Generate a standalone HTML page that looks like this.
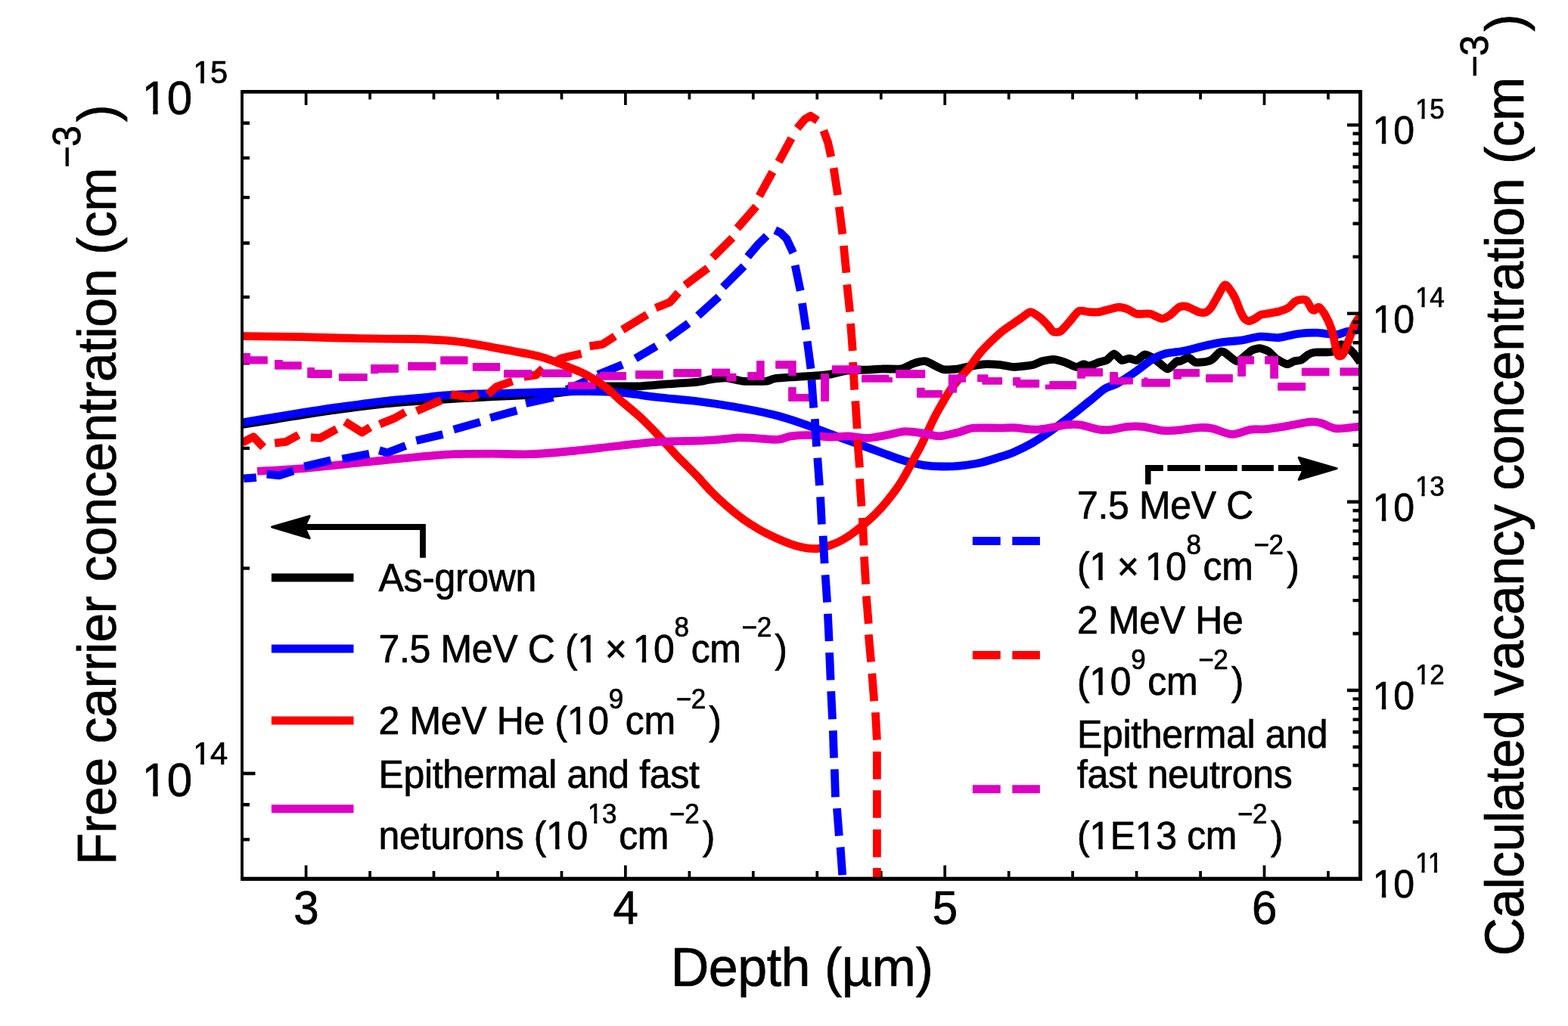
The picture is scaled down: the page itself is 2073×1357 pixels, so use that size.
<!DOCTYPE html>
<html lang="en"><head><meta charset="utf-8"><title>Free carrier and vacancy concentration vs depth</title>
<style>
html,body{margin:0;padding:0;background:#fff;}
body{width:2073px;height:1357px;overflow:hidden;}
svg{display:block;}
text{font-family:"Liberation Sans",sans-serif;fill:#000;}
.c{fill:none;stroke-width:10.8;stroke-linejoin:round;stroke-linecap:butt;}
.ax{fill:none;stroke:#000;}
</style></head><body>
<svg width="2073" height="1357" viewBox="0 0 2073 1357">
<rect x="0" y="0" width="2073" height="1357" fill="#fff"/>
<defs><clipPath id="pc"><rect x="320" y="121.4" width="1477" height="1040.6"/></clipPath></defs>
<path class="ax" d="M320,1064.3 L330,1064.3 M320,1110.4 L330,1110.4 M320,1023 L337.5,1023 M320,751.6 L330,751.6 M320,592.9 L330,592.9 M320,480.2 L330,480.2 M320,392.9 L330,392.9 M320,321.5 L330,321.5 M320,261.1 L330,261.1 M320,208.9 L330,208.9 M320,162.8 L330,162.8" stroke-width="4.4"/>
<path class="ax" d="M404.6,1162 L404.6,1144.5 M404.6,121.4 L404.6,138.9 M489.1,1162 L489.1,1152 M489.1,121.4 L489.1,131.4 M573.5,1162 L573.5,1152 M573.5,121.4 L573.5,131.4 M658,1162 L658,1152 M658,121.4 L658,131.4 M742.5,1162 L742.5,1152 M742.5,121.4 L742.5,131.4 M826.9,1162 L826.9,1144.5 M826.9,121.4 L826.9,138.9 M911.4,1162 L911.4,1152 M911.4,121.4 L911.4,131.4 M995.8,1162 L995.8,1152 M995.8,121.4 L995.8,131.4 M1080.3,1162 L1080.3,1152 M1080.3,121.4 L1080.3,131.4 M1164.8,1162 L1164.8,1152 M1164.8,121.4 L1164.8,131.4 M1249.2,1162 L1249.2,1144.5 M1249.2,121.4 L1249.2,138.9 M1333.7,1162 L1333.7,1152 M1333.7,121.4 L1333.7,131.4 M1418.1,1162 L1418.1,1152 M1418.1,121.4 L1418.1,131.4 M1502.6,1162 L1502.6,1152 M1502.6,121.4 L1502.6,131.4 M1587.1,1162 L1587.1,1152 M1587.1,121.4 L1587.1,131.4 M1671.5,1162 L1671.5,1144.5 M1671.5,121.4 L1671.5,138.9 M1756,1162 L1756,1152 M1756,121.4 L1756,131.4" stroke-width="3.7"/>
<g clip-path="url(#pc)">
<path class="c" d="M315.1,562.4 C315.8,562.2 317.3,561.9 322.1,561.1 C326.8,560.4 354.9,556.1 362.7,554.8 C370.5,553.6 392.8,549.7 400.3,548.6 C407.9,547.4 430.4,544.1 438,543 C445.5,542 468.1,539 475.6,538 C483.1,537.1 505.7,534.3 513.2,533.5 C520.7,532.8 543.3,531.1 550.8,530.5 C558.4,530 580.9,528.4 588.5,528 C596,527.5 617.3,526.4 626.1,526 C634.9,525.5 666.2,524 676.3,523.5 C686.3,523 718.9,521.5 726.4,521 C734,520.4 746.5,518.8 751.5,518 C756.5,517.2 771.6,513.6 776.6,512.9 C781.6,512.2 797.3,511.1 801.7,510.9 C806,510.7 815.7,510.9 820,510.9 C824.3,510.9 838.8,511.2 845.1,510.9 C851.4,510.6 875.2,508.5 882.7,507.9 C890.2,507.4 914.6,506 920.3,505.4 C926.1,504.8 936.4,502.2 940.4,501.7 C944.4,501.1 956.2,499.7 960.5,499.9 C964.7,500.2 977.8,503.7 983,504.2 C988.3,504.6 1008.9,504.5 1013.2,504.2 C1017.4,503.8 1019.9,501.1 1025.7,500.4 C1031.5,499.7 1063.8,497.9 1070.8,497.4 C1077.9,496.9 1090.9,496.1 1095.9,495.4 C1100.9,494.6 1116,490.5 1121,489.9 C1126,489.2 1141.6,489.3 1146.1,489.1 C1150.6,488.9 1161.6,488 1166.2,487.9 C1170.7,487.7 1187,488.6 1191.2,487.9 C1195.5,487.1 1205.5,481.3 1208.8,480.3 C1212.1,479.3 1220.1,477 1223.9,477.8 C1227.6,478.6 1242.2,487.4 1246.4,488.4 C1250.7,489.4 1262.7,488.3 1266.5,487.9 C1270.3,487.4 1280.3,484.7 1284.1,484.1 C1287.8,483.5 1300.4,481.8 1304.1,481.6 C1307.9,481.4 1318.1,482 1321.7,482.3 C1325.3,482.7 1335.7,485.3 1340,485.4 C1344.3,485.4 1361.3,483.6 1365.1,482.8 C1368.8,482.1 1374.9,478.6 1377.6,477.8 C1380.4,477.1 1389.7,475.2 1392.7,475.3 C1395.7,475.4 1404.7,478.1 1407.7,479.1 C1410.7,480.1 1420.3,485.1 1422.8,485.4 C1425.3,485.6 1431.1,481.7 1432.8,481.6 C1434.6,481.5 1438.3,484.4 1440.3,484.1 C1442.3,483.8 1450.6,479.8 1452.9,479.1 C1455.1,478.3 1460.9,477.7 1462.9,476.6 C1464.9,475.4 1470.9,467.8 1472.9,467.8 C1475,467.8 1481,475.9 1483,476.6 C1485,477.2 1491,474.1 1493,474.1 C1495,474.1 1501,477.1 1503,476.6 C1505.1,476.1 1510.8,469.3 1513.1,469 C1515.3,468.8 1522.6,472.2 1525.6,474.1 C1528.6,475.9 1540.2,487.5 1543.2,487.9 C1546.2,488.2 1554,478.8 1555.7,477.8 C1557.4,476.8 1558.4,478.4 1560,477.9 C1561.6,477.4 1569.3,472.8 1571.3,472.9 C1573.3,473 1577.8,478.6 1580.1,479.2 C1582.3,479.7 1591.6,478.9 1593.9,478.5 C1596.1,478.1 1600.8,476.7 1602.6,475.4 C1604.5,474.1 1611,466.5 1612.7,465.6 C1614.3,464.7 1616.7,464.8 1618.9,466 C1621.2,467.2 1632.4,477.6 1635.3,477.9 C1638.1,478.2 1645.8,470.6 1647.8,469.1 C1649.8,467.6 1653.6,463.9 1655.3,463.1 C1657.1,462.2 1663.2,460.5 1665.4,460.6 C1667.5,460.7 1674.5,463 1676.6,464.4 C1678.8,465.7 1684.2,472.4 1686.7,474.1 C1689.2,475.9 1699.3,481.3 1701.7,481.7 C1704.1,482 1708.6,478.5 1710.5,477.9 C1712.4,477.3 1718.7,476.9 1720.5,476 C1722.4,475.1 1727.6,470.1 1729.3,469.1 C1731.1,468.1 1735,466.4 1738.1,466 C1741.2,465.6 1757.2,466.4 1760.7,465.4 C1764.2,464.3 1771.2,456.2 1773.2,455.6 C1775.2,455 1779.1,458.2 1780.7,459.3 C1782.4,460.5 1787.8,465.3 1789.5,467.2 C1791.3,469.2 1797.4,478 1798.3,479.2" stroke="#000000"/>
<path class="c" d="M315.1,559.9 C316,559.7 315.7,559.7 322.1,558.6 C328.4,557.5 352.3,553.6 362.7,551.8 C373.1,550.1 390.3,547.2 400.3,545.6 C410.4,544 427.9,541.2 438,539.8 C448,538.3 465.6,536.1 475.6,534.8 C485.6,533.5 503.2,531.1 513.2,530 C523.3,528.9 540.8,527.7 550.8,526.7 C560.9,525.8 578.4,523.8 588.5,523 C598.5,522.2 614.4,521.4 626.1,521 C637.8,520.6 662.9,520.3 676.3,520 C689.6,519.6 713.1,518.8 726.4,518.5 C739.8,518.1 764.1,517.4 776.6,517.5 C789.1,517.6 807.5,518.1 820,519.2 C832.5,520.3 856.8,524 870.2,525.5 C883.5,527 907,528.8 920.3,530.5 C933.7,532.2 957.1,535.7 970.5,538 C983.9,540.4 1009,545.2 1020.7,548.1 C1032.4,550.9 1048.3,556 1058.3,559.4 C1068.3,562.7 1085.9,569.5 1095.9,573.2 C1106,576.8 1123.5,583.3 1133.6,586.9 C1143.6,590.6 1162.8,597.7 1171.2,600.7 C1179.5,603.8 1189.6,607.6 1196.3,609.5 C1203,611.5 1214.7,614.3 1221.4,615.3 C1228,616.3 1239.7,617 1246.4,617 C1253.1,617.1 1264.8,616.5 1271.5,615.8 C1278.2,615.1 1289.9,613.5 1296.6,612 C1303.3,610.5 1315.9,606.3 1321.7,604.5 C1327.5,602.7 1334.2,600.7 1340,598.2 C1345.8,595.7 1358.4,589.5 1365.1,585.7 C1371.8,581.8 1383.5,574.1 1390.2,569.4 C1396.9,564.7 1408.6,555.8 1415.3,550.6 C1421.9,545.4 1434.3,535.4 1440.3,530.5 C1446.4,525.7 1455.4,517.4 1460.4,514.2 C1465.4,511 1472.3,509.9 1478,506.7 C1483.7,503.5 1497,494.6 1503,490.4 C1509.1,486.2 1518.1,478.3 1523.1,475.3 C1528.1,472.3 1535,469.3 1540.7,467.8 C1546.4,466.3 1559.1,465.4 1565.8,464 C1572.4,462.7 1584.2,459.3 1590.8,457.8 C1597.5,456.3 1609.2,453.7 1615.9,452.7 C1622.6,451.7 1634.3,451.2 1641,450.2 C1647.7,449.2 1659.4,445.7 1666.1,445.2 C1672.8,444.7 1684.5,447 1691.2,446.5 C1697.9,446 1709.6,442.3 1716.3,441.5 C1723,440.6 1734.7,440 1741.4,440.2 C1748,440.4 1761.4,442.9 1766.4,442.7 C1771.5,442.5 1775.1,439.8 1779,438.9 C1782.9,438.1 1792.4,437.1 1795.8,436.4 C1799.1,435.8 1803,434.3 1804.1,433.9" stroke="#0000ff"/>
<path class="c" d="M695.1,533.5 L731.5,525.5 M749,515.5 L776.6,502.9 M790.4,495.4 L823,482.3 M840.1,474.1 L867.7,457.8" stroke="#0000ff"/>
<path class="c" d="M320.1,585.7 L322.1,584.4 L335.1,577.7 L348.2,591.5 M363.2,586.2 L377.8,584.4 L394.8,575.2 M410.9,578.7 L422.9,579.4 L445,567.6 M456,557.6 L478.6,571.9 L489.4,565.1 M501.9,561.1 L520.7,553.6 L535.8,545.1 M550.8,543.6 L583.5,529.3 M596,521.7 L621.1,525.5 L632.4,521.7 M644.9,521.7 L656.2,511.7 L677.5,504.2 M692.6,498.4 L708.9,495.9 L717.7,487.4 M731.5,480.3 L741.5,474.1 L768.6,467.8 M779.6,457.8 L796.7,455.3 L813,444.7 M822.9,436.1 L855.5,416.1 M866.8,407.3 L885.6,399.8 L896.9,387.2 M905.7,377.2 L920.7,365.9 L935.8,354.6 M942.1,340.8 L968.4,314.5 M974.7,301.9 L999.8,273.1 M1003.8,259.3 L1021.4,227.3 M1029.5,214.1 L1046.4,182.7 M1054,169.6 L1064,157.7 L1071.5,153.3 L1080.9,159.5 M1088.8,172.7 L1094.5,188 L1098.8,207.3 M1102.1,222.1 L1107.6,258 M1109.3,273.6 L1113.9,309.7 M1115.4,325 L1118.9,360.8 M1119.8,376.4 L1123.6,412.5 M1124.6,427.8 L1127.3,464 M1127.6,479 L1129.7,515.6 M1130.8,530.3 L1133.2,567 M1136.5,633.3 L1139,669.7 M1140.3,685 L1142,721.4 M1142.5,736.4 L1144.6,772.8 M1145.3,788.4 L1148.3,825 M1148.3,839.3 L1151.6,875.6 M1152.8,890.7 L1155.7,927.3 M1157.4,942.2 L1159.4,978.6 M1159.4,994.1 L1159.4,1030.7 M1159.4,1045.2 L1159.4,1081.7 M1159.4,1097 L1159.4,1133.8 M1159.4,1148.1 L1159.4,1166" stroke="#ff0000"/>
<path d="M322.8,467.8H330.2V471H322.8ZM322.8,472.2H353V480.7H322.8ZM363.9,477H373V477.9H363.9ZM363.9,479.1H397.9V487.9H363.9ZM407.1,487H415.1V488.7H407.1ZM407.1,490H438V499H407.1ZM448.8,494.8H484.9V503H448.8ZM490.9,482.8H526.1V492H490.9ZM490.9,493.3H499.7V493H490.9ZM540,480H575.6V489H540ZM583.1,472.1H617.6V481.1H583.1ZM625.7,480.8H660.4V489.8H625.7ZM666.9,489.9H702.4V498.7H666.9ZM716.7,489.3H755V498.1H716.7ZM751.8,506.2H787V513.8H751.8ZM793.8,493H827.2V501.9H793.8ZM788.8,495.5H792.5V499.4H788.8ZM840.9,490.9H876.1V500H840.9ZM891.1,489H926.5V497.9H891.1ZM941.8,488.4H964.3V497.4H941.8ZM961.4,494.6H972.6V503.6H961.4ZM989.1,493H1009.8V501.8H989.1ZM1001,477.9H1009.8V501.8H1001ZM1026.1,477.9H1051.8V486.8H1026.1ZM1043,477.9H1051.8V496.2H1043ZM1043,513H1051.8V530H1043ZM1043,521.8H1069.4V530H1043ZM1086,494.8H1095.1V530H1086ZM1100.7,484.2H1137.1V493H1100.7ZM1139.9,496.7H1174.5V504.9H1139.9ZM1175.9,499.8H1179.1V504.9H1175.9ZM1185.1,489.8H1222.4V499.1H1185.1ZM1212.9,516.8H1239.1V525H1212.9ZM1212.9,513.6H1221.8V515.6H1212.9ZM1230.9,516.8H1245.2V525H1230.9ZM1293,496.1H1305.6V504.3H1293ZM1299.3,499.8H1324.2V507.8H1299.3ZM1340,499.8H1348.3V509.3H1340ZM1343.8,503H1373.3V511.8H1343.8ZM1382.7,509.3H1387.1V514H1382.7ZM1388.3,504.9H1422.3V514H1388.3ZM1425.1,487.9H1434.2V499.9H1425.1ZM1425.1,487.9H1457.1V497H1425.1ZM1467.9,493H1477.2V507.8H1467.9ZM1467.9,499.8H1489.1V507.8H1467.9ZM1480.9,500.1H1497V507.7H1480.9ZM1510,501.9H1546.2V510.8H1510ZM1512.9,500.1H1516.7V500.8H1512.9ZM1552.1,488.8H1585.1V497.6H1552.1ZM1552.1,498.8H1561.3V500.8H1552.1ZM1595,496H1629V504.8H1595ZM1637.1,471.8H1646.2V497H1637.1ZM1637.1,471.8H1657.2V480.9H1637.1ZM1673,471.8H1689.2V480.9H1673ZM1680.1,471.8H1689.2V499.9H1680.1ZM1690,506.9H1725.2V515.8H1690ZM1721.7,487.5H1739.1V496.4H1721.7ZM1739.9,487.5H1756.7V496.4H1739.9Z" fill="#dd00c3" stroke="#dd00c3" stroke-width="1.8" stroke-linejoin="round"/>
<path class="c" d="M315.1,444.7 C315.9,444.7 312.1,444.6 322.1,444.7 C332,444.8 382.4,445.4 400.3,445.7 C418.2,446.1 458,447.4 475.6,447.7 C493.2,448 537.7,448.2 550.8,448.5 C564,448.8 579.7,449.5 588.5,450.2 C597.3,451 615.9,453.1 626.1,454.8 C636.3,456.4 666,462.1 676.3,464 C686.5,466 705.1,469.1 713.9,471.6 C722.7,474 744.2,482.4 751.5,485.4 C758.8,488.3 770.8,493.4 776.6,496.6 C782.5,499.9 796.6,509.1 801.7,512.9 C806.8,516.8 814.9,524.9 820,529.3 C825.1,533.6 839.2,545.2 845.1,550.6 C850.9,556 864.3,569.5 870.2,575.7 C876,581.8 889.4,597.1 895.3,603.3 C901.1,609.4 915.1,622.9 920.3,628.3 C925.6,633.8 935.2,644.9 940,649.7 C944.8,654.6 956.6,665.6 961.7,670 C966.8,674.4 978.4,683.7 983.4,687.4 C988.5,691 1000.1,698.2 1005.1,701.1 C1010.2,704 1021.8,709.7 1026.8,712 C1031.9,714.2 1044.3,719.2 1048.5,720.6 C1052.8,722.1 1060,723.7 1063,724.3 C1066,724.8 1072.1,725.6 1074.6,725.7 C1077.1,725.8 1081.8,725.6 1084.7,725 C1087.6,724.4 1095.8,721.9 1099.2,720.6 C1102.6,719.4 1110.3,716 1113.7,714.1 C1117,712.3 1124.8,707.2 1128.1,704.7 C1131.5,702.3 1139.2,696 1142.6,693.1 C1146,690.3 1153.7,683.5 1157.1,680.1 C1160.5,676.7 1168.2,668.2 1171.5,664.2 C1174.9,660.1 1183,649.8 1186,645.4 C1189.1,641 1195.1,631 1197.6,626.6 C1200.1,622.2 1205.4,612.1 1207.7,607.8 C1210.1,603.4 1214.7,595.3 1217.9,588.9 C1221,582.5 1232.1,558.7 1235,552.9 C1237.9,547.1 1240.2,543.2 1242.5,539.1 C1244.8,535 1252.2,522.2 1255.1,517.8 C1258,513.4 1264.7,505 1267.6,501.5 C1270.5,498 1276.8,491.9 1280.2,487.7 C1283.6,483.5 1292.1,470.7 1297.1,465.1 C1302.1,459.5 1317.8,444.4 1322.8,440 C1327.8,435.6 1336.5,430.1 1340,427.7 C1343.5,425.2 1349.9,420.6 1352.5,418.9 C1355.2,417.1 1359.9,412.5 1362.6,412.6 C1365.2,412.8 1372.5,418.1 1375.1,420.1 C1377.8,422.2 1383.1,428 1385.2,430.2 C1387.2,432.4 1390.6,438.1 1392.7,438.9 C1394.7,439.8 1400.1,439.5 1402.7,437.7 C1405.3,435.9 1412.5,427 1415.3,423.9 C1418,420.8 1423.6,412.7 1426.5,411.4 C1429.5,410 1437.3,412.5 1440.3,412.6 C1443.4,412.8 1448.5,413.3 1452.9,412.6 C1457.3,411.9 1473.6,406.8 1478,406.3 C1482.4,405.9 1487.6,407.8 1490.5,408.8 C1493.4,409.9 1499.5,414.4 1503,415.1 C1506.6,415.8 1516.8,414.4 1520.6,415.1 C1524.4,415.8 1532.7,421.1 1535.7,421.4 C1538.6,421.7 1543.4,419.1 1545.7,417.6 C1548,416.2 1554.1,410.2 1555.7,408.8 C1557.4,407.5 1558.6,406.2 1560,405.8 C1561.4,405.3 1565.6,404.8 1567.5,405.2 C1569.4,405.5 1574.3,407.8 1576.3,408.7 C1578.4,409.5 1583,412.2 1585.1,412.7 C1587.1,413.2 1592,413.8 1593.9,413.1 C1595.8,412.3 1599.5,408.9 1601.4,406.4 C1603.3,403.9 1608.4,394.4 1610.2,391.4 C1611.9,388.3 1615.3,381.8 1616.4,380.1 C1617.5,378.3 1618.6,376.5 1619.6,376.6 C1620.5,376.6 1623.1,378.7 1624.6,380.7 C1626.1,382.7 1630.9,390.1 1632.7,393.9 C1634.6,397.6 1638.8,409.5 1640.3,412.7 C1641.7,415.9 1644,420.1 1645.3,421.5 C1646.6,422.8 1649.9,424.6 1651.6,424.6 C1653.2,424.6 1657.3,422.4 1659.1,421.5 C1660.8,420.5 1664.6,417.2 1666.6,416.4 C1668.7,415.6 1673.7,415.1 1676.6,414.6 C1679.6,414 1688.5,412.6 1691.7,411.7 C1694.9,410.7 1701.9,407.9 1704.2,406.4 C1706.6,404.9 1710,400.3 1711.8,399.1 C1713.5,398 1717.5,396.5 1719.3,396.4 C1721.1,396.2 1725.7,396.1 1727.4,397.6 C1729.2,399.1 1733.1,407.7 1734.3,409.2 C1735.6,410.6 1737,410.5 1738.1,410.2 C1739.2,409.8 1742.1,405.4 1743.7,406.2 C1745.4,406.9 1750,413 1751.9,416.4 C1753.8,419.8 1758.7,430.4 1760.3,435.3 C1761.9,440.1 1764.8,454 1765.7,457.8 C1766.6,461.6 1767.6,466.3 1768.2,467.9 C1768.8,469.4 1769.8,471 1770.7,471 C1771.6,471 1774.2,470.6 1775.7,467.9 C1777.3,465.2 1782.1,452.3 1783.9,447.8 C1785.6,443.3 1789.1,432.5 1790.8,429 C1792.5,425.5 1796.5,420.2 1798.3,417.7 C1800.1,415.2 1804.9,408.8 1805.8,407.7" stroke="#ff0000"/>
<path class="c" d="M340.1,623.3 C348.2,622.8 382.3,621.1 400.3,619.6 C418.4,618.1 455.5,614 475.6,612 C495.7,610 534.1,606 550.8,604.5 C567.6,603 587.6,601.3 601,600.7 C614.4,600.2 637.8,600.2 651.2,600.2 C664.6,600.2 688,601.2 701.4,600.7 C714.7,600.3 735.7,598.5 751.5,597 C767.3,595.5 804.2,591.1 820,589.5 C835.8,587.8 856.8,585.3 870.2,584.4 C883.5,583.6 910.3,583.5 920.3,583.2 C930.4,582.8 938.1,582.5 945.4,581.9 C952.8,581.4 968.8,579.3 975.5,578.9 C982.2,578.6 988.6,579.1 995.6,579.4 C1002.6,579.8 1021.5,581.8 1028.2,581.4 C1034.9,581.1 1040.1,577.7 1045.8,576.9 C1051.4,576.1 1064.2,575.5 1070.8,575.7 C1077.5,575.8 1089.2,578 1095.9,578.2 C1102.6,578.3 1114.3,576.7 1121,576.9 C1127.7,577.1 1139.4,579.6 1146.1,579.4 C1152.8,579.3 1164.5,576.8 1171.2,575.7 C1177.9,574.5 1189.6,571 1196.3,570.6 C1203,570.3 1215.3,572.3 1221.4,573.2 C1227.4,574 1235.4,577.1 1241.4,576.9 C1247.4,576.7 1260.5,573.3 1266.5,571.9 C1272.5,570.5 1279.2,566.9 1286.6,566.1 C1293.9,565.4 1314.6,566.2 1321.7,566.1 C1328.8,566.1 1333.2,565.4 1340,565.6 C1346.8,565.9 1363.2,568.6 1372.6,568.1 C1382,567.6 1402.9,562.7 1410.2,561.9 C1417.6,561 1422.1,561 1427.8,561.9 C1433.5,562.7 1447.2,567.3 1452.9,568.1 C1458.6,569 1465.4,568.6 1470.4,568.1 C1475.5,567.6 1485.2,564.9 1490.5,564.4 C1495.9,563.9 1504.6,563.7 1510.6,564.4 C1516.6,565 1530,568.7 1535.7,569.4 C1541.3,570.1 1546.5,569.9 1553.2,569.4 C1559.9,568.9 1579.1,566 1585.8,565.6 C1592.5,565.3 1597.7,565.7 1603.4,566.9 C1609.1,568 1621.8,574.2 1628.5,574.4 C1635.2,574.6 1647.5,569 1653.6,568.1 C1659.6,567.2 1666.9,568.3 1673.6,567.6 C1680.3,567 1696,564.4 1703.7,563.1 C1711.4,561.8 1725.6,558.6 1731.3,558.1 C1737,557.6 1741.7,558.2 1746.4,559.4 C1751.1,560.5 1759.8,566.2 1766.4,566.9 C1773,567.5 1790.8,564.7 1795.8,564.4 C1800.8,564 1803,564.4 1804.1,564.4" stroke="#dd00c3"/>
<path d="M1254.7,496.1H1264.2V518.7H1254.7ZM1254.7,496.1H1276.1V504.9H1254.7Z" fill="#dd00c3" stroke="#dd00c3" stroke-width="1.8" stroke-linejoin="round"/>
<path class="c" d="M322.1,632.9 L338.9,631.6 M352.7,627.1 L369,628.8 L387.8,622.8 M402.3,617 L437.5,608.8 M452.5,607 L488.1,600.2 M501.4,595.7 L512,598.7 L536.3,589.5 M550.3,582.7 L585.5,574.4 M599.8,568.1 L634.9,558.1 M648.2,552.6 L683.3,543 M882.7,447.7 L910.3,427.7 M922.8,417.6 L950.4,392.5 M955.9,379.7 L983.5,352.1 M988.5,339.6 L1002.3,323.3 L1013.6,312 M1024.8,304.4 L1032.4,308.2 L1039.9,315.7 L1048.7,334.5 M1051.2,350.8 L1058.2,384.7 M1060.5,401 L1065.7,436 M1067.2,451.4 L1072,487.8 M1073,502.5 L1075.7,539.5 M1077.3,554.2 L1079.5,590.6 M1080.8,605.7 L1083.4,642.1 M1084.6,657.2 L1086.4,693.5 M1088.1,708.8 L1090.1,745.2 M1091.1,760.3 L1093.6,796.6 M1094.4,811.7 L1096.1,848 M1096.6,863.1 L1098.1,899.5 M1098.7,914.3 L1100.5,951.3 M1101.3,966.3 L1102.5,1002.5 M1103.3,1017.4 L1104.5,1054.2 M1106.5,1069.1 L1109.3,1105.5 M1111.1,1120.5 L1113.7,1157.3" stroke="#0000ff"/>
<path class="c" d="M1133.6,581.5 L1136.5,618.3" stroke="#ff0000"/>
</g>
<path class="ax" d="M1798.5,1087.2 L1788.5,1087.2 M1798.5,1043.3 L1788.5,1043.3 M1798.5,1012.2 L1788.5,1012.2 M1798.5,988 L1788.5,988 M1798.5,968.3 L1788.5,968.3 M1798.5,951.6 L1788.5,951.6 M1798.5,937.1 L1788.5,937.1 M1798.5,924.4 L1788.5,924.4 M1798.5,913 L1781,913 M1798.5,838 L1788.5,838 M1798.5,794.1 L1788.5,794.1 M1798.5,763 L1788.5,763 M1798.5,738.8 L1788.5,738.8 M1798.5,719.1 L1788.5,719.1 M1798.5,702.4 L1788.5,702.4 M1798.5,687.9 L1788.5,687.9 M1798.5,675.2 L1788.5,675.2 M1798.5,663.8 L1781,663.8 M1798.5,588.8 L1788.5,588.8 M1798.5,544.9 L1788.5,544.9 M1798.5,513.8 L1788.5,513.8 M1798.5,489.6 L1788.5,489.6 M1798.5,469.9 L1788.5,469.9 M1798.5,453.2 L1788.5,453.2 M1798.5,438.7 L1788.5,438.7 M1798.5,426 L1788.5,426 M1798.5,414.6 L1781,414.6 M1798.5,339.6 L1788.5,339.6 M1798.5,295.7 L1788.5,295.7 M1798.5,264.6 L1788.5,264.6 M1798.5,240.4 L1788.5,240.4 M1798.5,220.7 L1788.5,220.7 M1798.5,204 L1788.5,204 M1798.5,189.5 L1788.5,189.5 M1798.5,176.8 L1788.5,176.8 M1798.5,165.4 L1781,165.4" stroke-width="4.4"/>
<g clip-path="url(#pc)">
<path d="M1772.3,487.1H1796.1V496.1H1772.3Z" fill="#dd00c3" stroke="#dd00c3" stroke-width="1.8" stroke-linejoin="round"/>
</g>
<g class="ax">
<path d="M318.1,121.4 H1801" stroke-width="4.8"/>
<path d="M318.1,1162.3 H1801" stroke-width="5.2"/>
<path d="M320,121.4 V1162" stroke-width="3.8"/>
<path d="M1798.5,121.4 V1162" stroke-width="5"/>
</g>
<text x="0" y="0" font-size="70" text-anchor="start" transform="translate(153.2,1144.3) rotate(-90) scale(1,1.04)" letter-spacing="-0.50" stroke="#000" stroke-width="0.7" stroke-linejoin="round" xml:space="preserve">Free carrier concentration (cm<tspan font-size="49.7" dy="-45.4" dx="-0.4">−3</tspan><tspan dy="45.4" dx="5.2">)</tspan></text>
<text x="0" y="0" font-size="70" text-anchor="start" transform="translate(2014.1,1264.3) rotate(-90) scale(1,1.04)" letter-spacing="-0.57" stroke="#000" stroke-width="0.7" stroke-linejoin="round" xml:space="preserve">Calculated vacancy concentration (cm<tspan font-size="49.7" dy="-45.4" dx="-0.4">−3</tspan><tspan dy="45.4" dx="5.2">)</tspan></text>
<text x="0" y="0" font-size="70" text-anchor="middle" transform="translate(1060,1304) scale(1,1.04)" letter-spacing="-0.50" stroke="#000" stroke-width="0.7" stroke-linejoin="round" xml:space="preserve">Depth (µm)</text>
<text x="0" y="0" font-size="60" text-anchor="middle" transform="translate(404.6,1222.3) scale(1,1.04)" letter-spacing="-0.43" stroke="#000" stroke-width="0.7" stroke-linejoin="round" xml:space="preserve">3</text>
<text x="0" y="0" font-size="60" text-anchor="middle" transform="translate(826.9,1222.3) scale(1,1.04)" letter-spacing="-0.43" stroke="#000" stroke-width="0.7" stroke-linejoin="round" xml:space="preserve">4</text>
<text x="0" y="0" font-size="60" text-anchor="middle" transform="translate(1249.2,1222.3) scale(1,1.04)" letter-spacing="-0.43" stroke="#000" stroke-width="0.7" stroke-linejoin="round" xml:space="preserve">5</text>
<text x="0" y="0" font-size="60" text-anchor="middle" transform="translate(1671.5,1222.3) scale(1,1.04)" letter-spacing="-0.43" stroke="#000" stroke-width="0.7" stroke-linejoin="round" xml:space="preserve">6</text>
<text x="0" y="0" font-size="60" text-anchor="start" transform="translate(187.8,151.2) scale(1,1.04)" letter-spacing="-0.43" stroke="#000" stroke-width="0.7" stroke-linejoin="round" xml:space="preserve">10<tspan font-size="41.7" dy="-39.8" dx="1.5">15</tspan></text>
<text x="0" y="0" font-size="60" text-anchor="start" transform="translate(187.8,1052.7) scale(1,1.04)" letter-spacing="-0.43" stroke="#000" stroke-width="0.7" stroke-linejoin="round" xml:space="preserve">10<tspan font-size="41.7" dy="-39.8" dx="1.5">14</tspan></text>
<text x="0" y="0" font-size="50" text-anchor="start" transform="translate(1814.8,1187.2) scale(1,1.04)" letter-spacing="-0.36" stroke="#000" stroke-width="0.7" stroke-linejoin="round" xml:space="preserve">10<tspan font-size="35" dy="-32" dx="1.5">11</tspan></text>
<text x="0" y="0" font-size="50" text-anchor="start" transform="translate(1814.8,938) scale(1,1.04)" letter-spacing="-0.36" stroke="#000" stroke-width="0.7" stroke-linejoin="round" xml:space="preserve">10<tspan font-size="35" dy="-32" dx="1.5">12</tspan></text>
<text x="0" y="0" font-size="50" text-anchor="start" transform="translate(1814.8,688.8) scale(1,1.04)" letter-spacing="-0.36" stroke="#000" stroke-width="0.7" stroke-linejoin="round" xml:space="preserve">10<tspan font-size="35" dy="-32" dx="1.5">13</tspan></text>
<text x="0" y="0" font-size="50" text-anchor="start" transform="translate(1814.8,439.6) scale(1,1.04)" letter-spacing="-0.36" stroke="#000" stroke-width="0.7" stroke-linejoin="round" xml:space="preserve">10<tspan font-size="35" dy="-32" dx="1.5">14</tspan></text>
<text x="0" y="0" font-size="50" text-anchor="start" transform="translate(1814.8,190.4) scale(1,1.04)" letter-spacing="-0.36" stroke="#000" stroke-width="0.7" stroke-linejoin="round" xml:space="preserve">10<tspan font-size="35" dy="-32" dx="1.5">15</tspan></text>
<path d="M358.9,764.1 H467.5" fill="none" stroke="#000000" stroke-width="11"/>
<path d="M358.9,858.1 H467.5" fill="none" stroke="#0000ff" stroke-width="11"/>
<path d="M358.9,953 H467.5" fill="none" stroke="#ff0000" stroke-width="11"/>
<path d="M358.9,1069.7 H467.5" fill="none" stroke="#dd00c3" stroke-width="11"/>
<text x="0" y="0" font-size="50" text-anchor="start" transform="translate(500.6,782.1) scale(1,1.04)" letter-spacing="-0.36" stroke="#000" stroke-width="0.7" stroke-linejoin="round" xml:space="preserve">As-grown</text>
<text x="0" y="0" font-size="50" text-anchor="start" transform="translate(500.6,875.7) scale(1,1.04)" letter-spacing="-0.36" stroke="#000" stroke-width="0.7" stroke-linejoin="round" xml:space="preserve">7.5 MeV C (1 <tspan dx="-4.5">× </tspan><tspan dx="-5.5">10</tspan><tspan font-size="35" dy="-32.5">8</tspan><tspan dy="32.5" dx="3">cm</tspan><tspan font-size="35" dy="-32.5" dx="1">−2</tspan><tspan dy="32.5" dx="4.5">)</tspan></text>
<text x="0" y="0" font-size="50" text-anchor="start" transform="translate(500.6,971) scale(1,1.04)" letter-spacing="-0.36" stroke="#000" stroke-width="0.7" stroke-linejoin="round" xml:space="preserve">2 MeV He (10<tspan font-size="35" dy="-32.5">9</tspan><tspan dy="32.5" dx="3">cm</tspan><tspan font-size="35" dy="-32.5" dx="1">−2</tspan><tspan dy="32.5" dx="4.5">)</tspan></text>
<text x="0" y="0" font-size="50" text-anchor="start" transform="translate(500.6,1042.1) scale(1,1.04)" letter-spacing="-0.36" stroke="#000" stroke-width="0.7" stroke-linejoin="round" xml:space="preserve">Epithermal and fast</text>
<text x="0" y="0" font-size="50" text-anchor="start" transform="translate(500.6,1122.9) scale(1,1.04)" letter-spacing="-0.36" stroke="#000" stroke-width="0.7" stroke-linejoin="round" xml:space="preserve">neturons (10<tspan font-size="35" dy="-32.5">13</tspan><tspan dy="32.5" dx="3">cm</tspan><tspan font-size="35" dy="-32.5" dx="1">−2</tspan><tspan dy="32.5" dx="4.5">)</tspan></text>
<path d="M1285.8,715.4 H1374.9" fill="none" stroke="#0000ff" stroke-width="11" stroke-dasharray="36.9 15.6"/>
<path d="M1285.8,866.4 H1374.9" fill="none" stroke="#ff0000" stroke-width="11" stroke-dasharray="36.9 15.6"/>
<path d="M1285.8,1043.7 H1374.9" fill="none" stroke="#dd00c3" stroke-width="11" stroke-dasharray="36.9 15.6"/>
<text x="0" y="0" font-size="50" text-anchor="start" transform="translate(1424,685.8) scale(1,1.04)" letter-spacing="-0.36" stroke="#000" stroke-width="0.7" stroke-linejoin="round" xml:space="preserve">7.5 MeV C</text>
<text x="0" y="0" font-size="50" text-anchor="start" transform="translate(1424,766.8) scale(1,1.04)" letter-spacing="-0.36" stroke="#000" stroke-width="0.7" stroke-linejoin="round" xml:space="preserve">(1 <tspan dx="-4.5">× </tspan><tspan dx="-5.5">10</tspan><tspan font-size="35" dy="-32.5">8</tspan><tspan dy="32.5" dx="3">cm</tspan><tspan font-size="35" dy="-32.5" dx="1">−2</tspan><tspan dy="32.5" dx="4.5">)</tspan></text>
<text x="0" y="0" font-size="50" text-anchor="start" transform="translate(1424,837.8) scale(1,1.04)" letter-spacing="-0.36" stroke="#000" stroke-width="0.7" stroke-linejoin="round" xml:space="preserve">2 MeV He</text>
<text x="0" y="0" font-size="50" text-anchor="start" transform="translate(1424,918.5) scale(1,1.04)" letter-spacing="-0.36" stroke="#000" stroke-width="0.7" stroke-linejoin="round" xml:space="preserve">(10<tspan font-size="35" dy="-32.5">9</tspan><tspan dy="32.5" dx="3">cm</tspan><tspan font-size="35" dy="-32.5" dx="1">−2</tspan><tspan dy="32.5" dx="4.5">)</tspan></text>
<text x="0" y="0" font-size="50" text-anchor="start" transform="translate(1424,989) scale(1,1.04)" letter-spacing="-0.36" stroke="#000" stroke-width="0.7" stroke-linejoin="round" xml:space="preserve">Epithermal and</text>
<text x="0" y="0" font-size="50" text-anchor="start" transform="translate(1424,1041.7) scale(1,1.04)" letter-spacing="-0.36" stroke="#000" stroke-width="0.7" stroke-linejoin="round" xml:space="preserve">fast neutrons</text>
<text x="0" y="0" font-size="50" text-anchor="start" transform="translate(1424,1122.5) scale(1,1.04)" letter-spacing="-0.36" stroke="#000" stroke-width="0.7" stroke-linejoin="round" xml:space="preserve">(1E13 cm<tspan font-size="35" dy="-32.5" dx="1">−2</tspan><tspan dy="32.5" dx="4.5">)</tspan></text>
<path d="M559,737.8 V697 H402" fill="none" stroke="#000" stroke-width="7.8" stroke-linejoin="miter"/>
<path d="M359.6,697 L409.2,682.6 L402.4,697 L409.2,711.9 Z" fill="#000" stroke="#000" stroke-width="3" stroke-linejoin="round"/>
<path d="M1517.8,640.6 V615" fill="none" stroke="#000" stroke-width="7.5"/>
<path d="M1514.1,619.1 H1537.9 M1543.4,619.1 H1586.8 M1593.1,619.1 H1635.7 M1641.7,619.1 H1683.9 M1689.9,619.1 H1724" fill="none" stroke="#000" stroke-width="8"/>
<path d="M1767.2,619.6 L1717.2,605.3 L1724,619.6 L1717.2,634.4 Z" fill="#000" stroke="#000" stroke-width="3" stroke-linejoin="round"/>
<path id="ft" fill="#fff" d="M190.8,144.6H202.3V152.8H190.8ZM208.7,144.6H219.9V152.8H208.7ZM257.3,104.7H265.1V111.4H257.3ZM269.9,104.7H277.5V111.4H269.9ZM190.8,1046.1H202.3V1054.3H190.8ZM208.7,1046.1H219.9V1054.3H208.7ZM257.3,1006.2H265.1V1012.9H257.3ZM269.9,1006.2H277.5V1012.9H269.9ZM1817.3,1181.4H1826.8V1188.8H1817.3ZM1832.3,1181.4H1841.6V1188.8H1832.3ZM1872.9,1149.3H1879.4V1155.5H1872.9ZM1883.6,1149.3H1889.9V1155.5H1883.6ZM1889.4,1149.3H1895.9V1155.5H1889.4ZM1900.1,1149.3H1906.4V1155.5H1900.1ZM1817.3,932.2H1826.8V939.6H1817.3ZM1832.3,932.2H1841.6V939.6H1832.3ZM1872.9,900.1H1879.4V906.3H1872.9ZM1883.6,900.1H1889.9V906.3H1883.6ZM1817.3,683.0H1826.8V690.4H1817.3ZM1832.3,683.0H1841.6V690.4H1832.3ZM1872.9,650.9H1879.4V657.1H1872.9ZM1883.6,650.9H1889.9V657.1H1883.6ZM1817.3,433.8H1826.8V441.2H1817.3ZM1832.3,433.8H1841.6V441.2H1832.3ZM1872.9,401.7H1879.4V407.9H1872.9ZM1883.6,401.7H1889.9V407.9H1883.6ZM1817.3,184.6H1826.8V192.0H1817.3ZM1832.3,184.6H1841.6V192.0H1832.3ZM1872.9,152.5H1879.4V158.7H1872.9ZM1883.6,152.5H1889.9V158.7H1883.6ZM765.8,869.9H775.3V877.3H765.8ZM780.9,869.9H790.1V877.3H780.9ZM839.2,869.9H848.7V877.3H839.2ZM854.2,869.9H863.4V877.3H854.2ZM752.3,965.2H761.8V972.6H752.3ZM767.3,965.2H776.6V972.6H767.3ZM724.6,1117.1H734.1V1124.5H724.6ZM739.6,1117.1H748.8V1124.5H739.6ZM778.7,1084.5H785.2V1090.7H778.7ZM789.4,1084.5H795.7V1090.7H789.4ZM1442.8,761.0H1452.3V768.4H1442.8ZM1457.8,761.0H1467.0V768.4H1457.8ZM1516.1,761.0H1525.7V768.4H1516.1ZM1531.2,761.0H1540.4V768.4H1531.2ZM1442.8,912.7H1452.3V920.1H1442.8ZM1457.8,912.7H1467.0V920.1H1457.8ZM1442.8,1116.7H1452.3V1124.1H1442.8ZM1457.8,1116.7H1467.0V1124.1H1457.8ZM1503.2,1116.7H1512.7V1124.1H1503.2ZM1518.2,1116.7H1527.5V1124.1H1518.2Z"/>
</svg>
</body></html>
